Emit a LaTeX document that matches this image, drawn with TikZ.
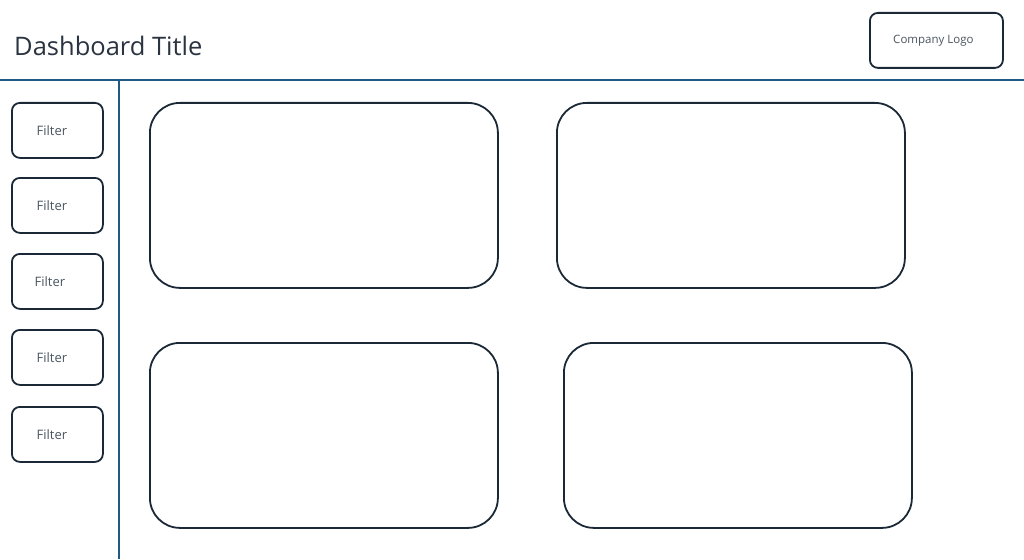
\documentclass[tikz,border=0pt]{standalone}
\usepackage{fontspec}
\setmainfont{Open Sans}
\definecolor{strokec}{HTML}{1B2836}
\definecolor{linec}{HTML}{1F5A85}
\definecolor{txtc}{HTML}{2A3440}
\definecolor{smalltxt}{HTML}{4A5560}
\begin{document}
\begin{tikzpicture}[x=1pt,y=-1pt,
  filterbox/.style={draw=strokec,line width=1.8pt,rounded corners=8pt,minimum width=91pt,minimum height=55pt,inner sep=0pt,anchor=north west,font=\fontsize{13}{15}\selectfont,text=smalltxt},
  panel/.style={draw=strokec,line width=1.8pt,rounded corners=30pt,minimum width=348pt,minimum height=185pt,inner sep=0pt,anchor=north west},
  divider/.style={draw=linec,line width=1.6pt}]
\useasboundingbox (0,0) rectangle (1024,559);
\node[anchor=west,text=txtc,font=\fontsize{25.5}{30}\selectfont,inner sep=0pt] (title) at (14,46) {Dashboard Title};
\node[draw=strokec,line width=1.8pt,rounded corners=8pt,minimum width=133pt,minimum height=55pt,inner sep=0pt,anchor=north west,font=\fontsize{11.5}{14}\selectfont,text=smalltxt] (logo) at (869,12) {Company Logo\hspace*{6pt}};
\coordinate (hl) at (0,80);
\coordinate (hr) at (1024,80);
\coordinate (vt) at (119,80);
\coordinate (vb) at (119,559);
\draw[divider] (hl) -- (hr);
\draw[divider] (vt) -- (vb);
\node[filterbox] (f1) at (11,102) {Filter\hspace*{11pt}};
\node[filterbox] (f2) at (11,177) {Filter\hspace*{11pt}};
\node[filterbox] (f3) at (11,253) {Filter\hspace*{15pt}};
\node[filterbox] (f4) at (11,329) {Filter\hspace*{11pt}};
\node[filterbox] (f5) at (11,406) {Filter\hspace*{11pt}};
\node[panel] (p1) at (149,102) {};
\node[panel] (p2) at (556,102) {};
\node[panel] (p3) at (149,342) {};
\node[panel] (p4) at (563,342) {};
\end{tikzpicture}
\end{document}
